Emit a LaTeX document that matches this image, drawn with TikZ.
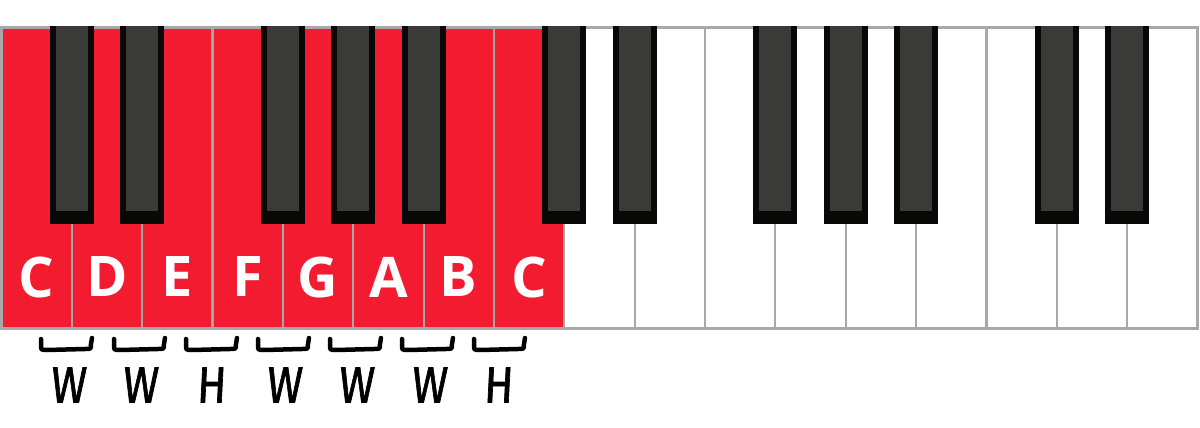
\documentclass[tikz,border=0pt]{standalone}
\usepackage{fontspec}
\newfontfamily\keyfont{Open Sans}
\newfontfamily\handfont{Fira Sans}[FakeBold=1.5]
\definecolor{keyred}{RGB}{242,27,48}
\definecolor{keygray}{RGB}{168,168,168}
\definecolor{blackouter}{RGB}{10,8,6}
\definecolor{blackinner}{RGB}{58,58,56}
\tikzset{
  divider/.style={keygray, line width=2.2pt},
  frame/.style={keygray, line width=3pt},
  notelabel/.style={text=white, font=\keyfont\bfseries\fontsize{56}{60}\selectfont, inner sep=0pt, anchor=center},
  bracketline/.style={black, line width=4.5pt, line cap=round, line join=round},
  steplabel/.style={text=black, font=\handfont\fontsize{51}{54}\selectfont, inner sep=0pt, xscale=0.84, xslant=0.06, anchor=center}
}
\begin{document}
\begin{tikzpicture}[x=1pt,y=-1pt]
\useasboundingbox (0,0) rectangle (1200,428);
\def\kw{70.35}
% white / red keys
\foreach \i in {0,...,16} {
  \ifnum\i<8 \def\col{keyred}\else\def\col{white}\fi
  \fill[\col] (1.5+\kw*\i,27.5) rectangle (1.5+\kw*\i+\kw,328.5);
}
% dividers
\foreach \i in {1,...,16} {
  \draw[divider] (1.5+\kw*\i,27.5) -- (1.5+\kw*\i,328.5);
}
% frame
\draw[frame] (1.5,27.5) rectangle (1197.5,328.5);
% black keys
\foreach \i in {0,1,3,4,5,7,8,10,11,12,14,15} {
  \fill[blackouter] (1.5+\kw*\i+\kw-22,26) rectangle (1.5+\kw*\i+\kw+22,224);
  \fill[blackinner] (1.5+\kw*\i+\kw-16,26) rectangle (1.5+\kw*\i+\kw+16,211);
}
% note names
\foreach \n [count=\i from 0] in {C,D,E,F,G,A,B,C} {
  \node[notelabel] (N\i) at (1.5+\kw*\i+\kw/2,277) {\n};
}
% brackets
\foreach \cx in {66,139,211,283,355,427,499} {
  \draw[bracketline] (\cx-25,339) -- (\cx-25,345) .. controls (\cx-25,350) .. (\cx-19,350)
        -- (\cx+19,349) .. controls (\cx+25,349) .. (\cx+25,344) -- (\cx+26,338);
}
% step labels
\foreach \s/\cx [count=\j] in {W/69,W/141,H/212,W/285,W/357,W/430,H/499} {
  \node[steplabel] (S\j) at (\cx,385) {\s};
}
\end{tikzpicture}
\end{document}
